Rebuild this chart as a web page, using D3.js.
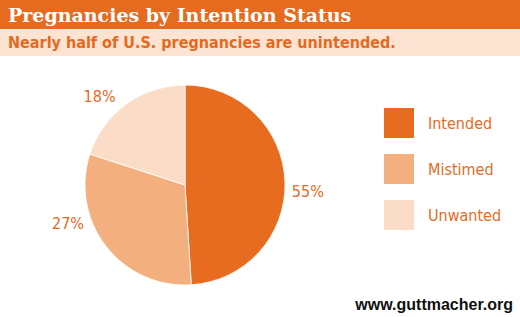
<!DOCTYPE html>
<html>
<head>
<meta charset="utf-8">
<script src="https://cdn.jsdelivr.net/npm/d3@7"></script>
<style>
  body { margin: 0; background: #fff; }
  svg { display: block; }
</style>
</head>
<body>
<div class="vizHolder"></div>
<script>
var width = 520,
    height = 317;

// slice shares as drawn, and the labels printed next to them
var categories = ['Intended', 'Mistimed', 'Unwanted'];
var shares = [49, 31, 20];
var labels = ['55%', '27%', '18%'];
var colors = ['#e86c1f', '#f3af7e', '#fbdcc6'];

var svg = d3.select('.vizHolder')
            .append('svg')
            .attr('width', width)
            .attr('height', height);

// title band
svg.append('rect').attr('x', 0).attr('y', 0).attr('width', width).attr('height', 29).attr('fill', '#e76b1f');
svg.append('text')
   .attr('x', 8).attr('y', 22)
   .attr('font-family', 'DejaVu Serif')
   .attr('font-weight', 'bold')
   .attr('font-size', 19)
   .attr('fill', '#fff')
   .text('Pregnancies by Intention Status');

// subtitle band
svg.append('rect').attr('x', 0).attr('y', 29).attr('width', width).attr('height', 27).attr('fill', '#fde3d2');
svg.append('text')
   .attr('x', 8).attr('y', 48)
   .attr('font-family', 'DejaVu Sans Condensed')
   .attr('font-weight', 'bold')
   .attr('font-size', 16)
   .attr('fill', '#e56a1e')
   .text('Nearly half of U.S. pregnancies are unintended.');

// pie
var cx = 185, cy = 185, r = 100;

var pie = d3.pie().sort(null).value(function(d){ return d; });
var arc = d3.arc().innerRadius(0).outerRadius(r);
var arcs = pie(shares);

var g = svg.append('g').attr('transform', 'translate(' + cx + ',' + cy + ')');

g.selectAll('path')
 .data(arcs)
 .enter()
 .append('path')
 .attr('d', arc)
 .attr('fill', function(d, i){ return colors[i]; })
 .attr('stroke', '#fff')
 .attr('stroke-width', 0.8);

// percent labels outside the pie
var labelR = r + 23;
var labelAngle = [93, 252, 316]; // degrees, clockwise from top
g.selectAll('text.pct')
 .data(arcs)
 .enter()
 .append('text')
 .attr('class', 'pct')
 .attr('x', function(d, i){ var a = labelAngle[i] * Math.PI / 180; return Math.sin(a) * labelR; })
 .attr('y', function(d, i){ var a = labelAngle[i] * Math.PI / 180; return -Math.cos(a) * labelR; })
 .attr('dy', '0.35em')
 .attr('text-anchor', 'middle')
 .attr('font-family', 'DejaVu Sans Condensed')
 .attr('font-size', 16)
 .attr('fill', '#e56a1e')
 .text(function(d, i){ return labels[i]; });

// legend
var legend = svg.append('g').attr('transform', 'translate(384,108)');
var item = legend.selectAll('g')
                 .data(categories)
                 .enter()
                 .append('g')
                 .attr('transform', function(d, i){ return 'translate(0,' + i * 46 + ')'; });

item.append('rect')
    .attr('width', 30).attr('height', 30)
    .attr('fill', function(d, i){ return colors[i]; });

item.append('text')
    .attr('x', 44).attr('y', 15)
    .attr('dy', '0.35em')
    .attr('font-family', 'DejaVu Sans Condensed')
    .attr('font-size', 16)
    .attr('fill', '#e56a1e')
    .text(function(d){ return d; });

// footer
svg.append('text')
   .attr('x', 513).attr('y', 310)
   .attr('text-anchor', 'end')
   .attr('font-family', 'Liberation Sans')
   .attr('font-weight', 'bold')
   .attr('font-size', 16)
   .attr('fill', '#111')
   .text('www.guttmacher.org');
</script>
</body>
</html>
